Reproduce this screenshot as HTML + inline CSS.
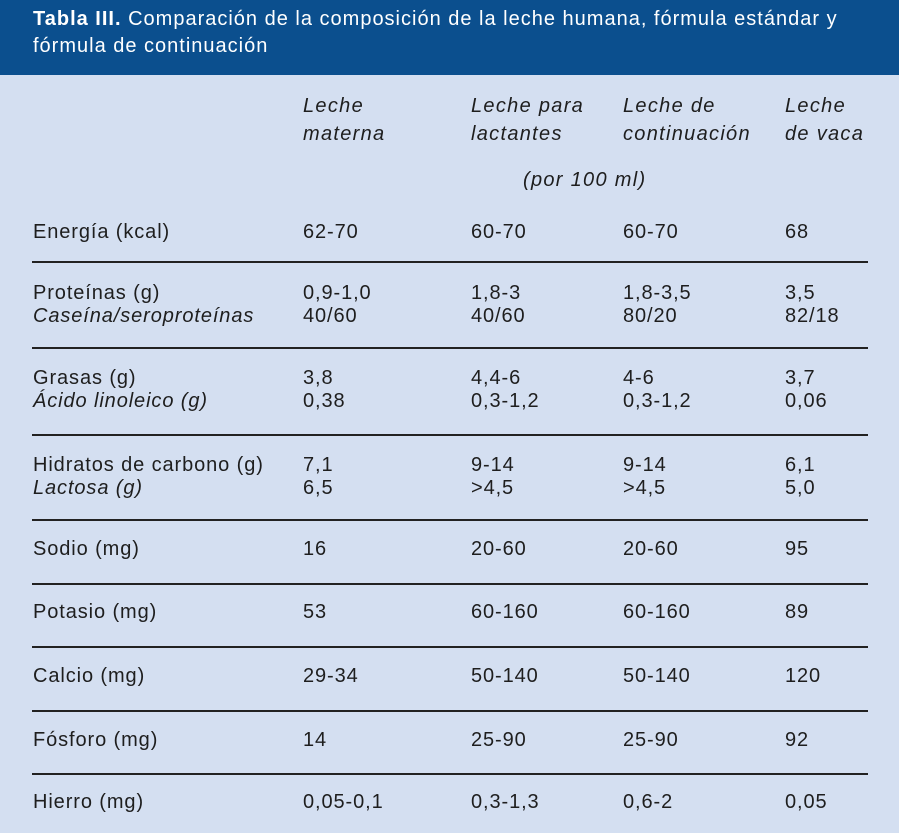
<!DOCTYPE html>
<html><head><meta charset="utf-8"><style>
body{margin:0;width:899px;height:833px;background:#d4dff1;font-family:"Liberation Sans",sans-serif;color:#1e1e1e;position:relative;overflow:hidden}
.hdr{position:absolute;left:0;top:0;width:899px;height:75px;background:#0b4f8e;color:#fff;font-size:20px;line-height:27px;letter-spacing:1px}
.hdr div{position:absolute;left:33px;top:6px;white-space:nowrap}
.t{position:absolute;font-size:20px;line-height:22px;white-space:nowrap;letter-spacing:0.9px}
.i{font-style:italic}
.h{letter-spacing:1.3px}
.ln{position:absolute;left:32px;width:836px;height:1.5px;background:#222}
</style></head><body>
<div class="hdr"><div><b>Tabla III.</b> Comparación de la composición de la leche humana, fórmula estándar y<br>fórmula de continuación</div></div>
<div id="tb"></div>
<script>
const cols=[303,471,623,785];
const heads=[["Leche","materna"],["Leche para","lactantes"],["Leche de","continuación"],["Leche","de vaca"]];
const rows=[
 {y:232,lab:["Energía (kcal)"],v:[["62-70"],["60-70"],["60-70"],["68"]]},
 {y:293,lab:["Proteínas (g)","Caseína/seroproteínas"],v:[["0,9-1,0","40/60"],["1,8-3","40/60"],["1,8-3,5","80/20"],["3,5","82/18"]]},
 {y:378,lab:["Grasas (g)","Ácido linoleico (g)"],v:[["3,8","0,38"],["4,4-6","0,3-1,2"],["4-6","0,3-1,2"],["3,7","0,06"]]},
 {y:465,lab:["Hidratos de carbono (g)","Lactosa (g)"],v:[["7,1","6,5"],["9-14",">4,5"],["9-14",">4,5"],["6,1","5,0"]]},
 {y:549,lab:["Sodio (mg)"],v:[["16"],["20-60"],["20-60"],["95"]]},
 {y:612,lab:["Potasio (mg)"],v:[["53"],["60-160"],["60-160"],["89"]]},
 {y:676,lab:["Calcio (mg)"],v:[["29-34"],["50-140"],["50-140"],["120"]]},
 {y:740,lab:["Fósforo (mg)"],v:[["14"],["25-90"],["25-90"],["92"]]},
 {y:802,lab:["Hierro (mg)"],v:[["0,05-0,1"],["0,3-1,3"],["0,6-2"],["0,05"]]}
];
const lines=[261,347,434,519,583,646,710,773];
const tb=document.getElementById('tb');
function txt(s,x,yc,cls){const d=document.createElement('div');d.className='t '+(cls||'');d.style.left=x+'px';d.style.top=(yc-11)+'px';d.textContent=s;tb.appendChild(d);return d;}
heads.forEach((h,i)=>{
 const a=txt(h[0],cols[i],106,'i h');
 
 
 const b=txt(h[1],cols[i],134,'i h');
 
 
});
const u=txt("(por 100 ml)",523,180,'i h');


rows.forEach(r=>{
 r.lab.forEach((l,k)=>{const d=txt(l,33,r.y+k*23,k?'i':'');
  
  });
 r.v.forEach((c,i)=>c.forEach((s,k)=>{const d=txt(s,cols[i],r.y+k*23);
  
  }));
});
lines.forEach(y=>{const d=document.createElement('div');d.className='ln';d.style.top=y+'px';
 
 
 tb.appendChild(d);});
</script>
</body></html>
